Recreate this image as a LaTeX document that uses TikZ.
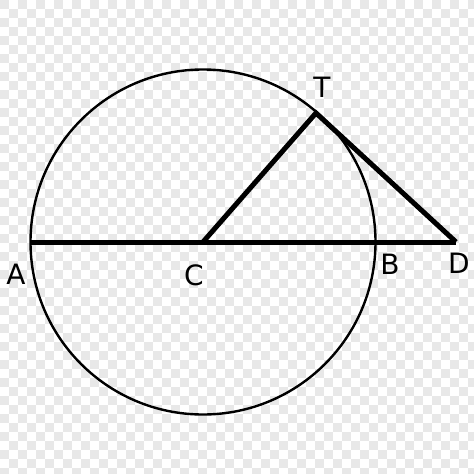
\documentclass[tikz,border=0pt]{standalone}
\usepackage{fontspec}
\setmainfont{DejaVu Sans}
\begin{document}
\begin{tikzpicture}[x=1pt,y=-1pt,
  lbl/.style={inner sep=0pt,font=\fontsize{28}{28}\selectfont},
  thin/.style={line width=2.4pt},
  thick/.style={line width=5pt}]
\useasboundingbox (0,0) rectangle (474,474);
\fill[white] (0,0) rectangle (474,474);
\foreach \i in {0,...,52}{
  \foreach \j in {0,...,52}{
    \pgfmathtruncatemacro{\p}{mod(\i+\j,2)}
    \ifnum\p=0
      \fill[black!9] (\i*9,\j*9) rectangle ++(9,9);
    \fi
  }
}
\coordinate (C) at (203,242);
\coordinate (A) at (30,242);
\coordinate (B) at (375,242);
\coordinate (D) at (456,242);
\coordinate (T) at (316,113);
\draw[thin] (C) circle[radius=172.5];
\draw[thick] (A) -- (D);
\draw[thick,line join=miter] (C) -- (T) -- (D);
\node[lbl] (lA) at (16,274) {A};
\node[lbl] (lC) at (194,275) {C};
\node[lbl] (lB) at (390,264) {B};
\node[lbl] (lD) at (459,263) {D};
\node[lbl] (lT) at (322,87) {T};
\end{tikzpicture}
\end{document}
